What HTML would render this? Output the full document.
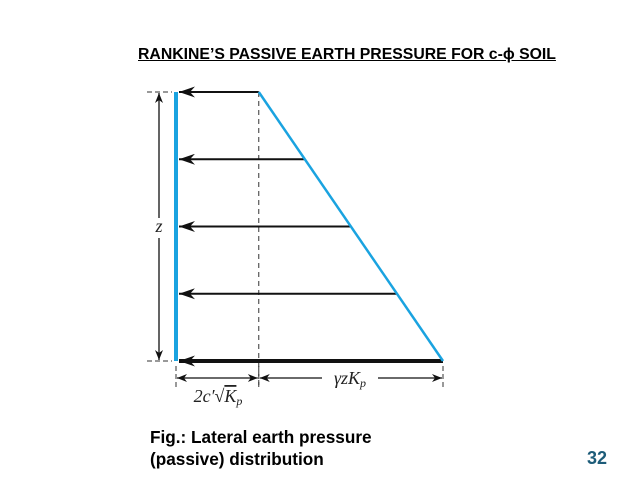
<!DOCTYPE html>
<html><head><meta charset="utf-8">
<style>
body{margin:0;width:638px;height:478px;background:#fff;overflow:hidden;font-family:"Liberation Sans",sans-serif;position:relative}
.t{position:absolute;font-weight:bold;color:#000;white-space:nowrap}
</style></head><body>
<div class="t" style="left:138px;top:46px;font-size:15.8px;text-decoration:underline;">RANKINE’S PASSIVE EARTH PRESSURE FOR c-ϕ SOIL</div>
<svg id="fig" width="638" height="478" style="position:absolute;left:0;top:0">
<defs><marker id="ah" markerWidth="16" markerHeight="11" refX="16" refY="5.5" orient="auto" markerUnits="userSpaceOnUse"><path d="M0,0 L16,5.5 L0,11 L5,5.5 z" fill="#111"/></marker>
<marker id="ah2" markerWidth="10" markerHeight="8" refX="10" refY="4" orient="auto-start-reverse" markerUnits="userSpaceOnUse"><path d="M0,0 L10,4 L0,8 L3,4 z" fill="#111"/></marker></defs>
</svg>
<div class="t" style="left:150px;top:426px;font-size:17.2px;line-height:22px">Fig.: Lateral earth pressure<br>(passive) distribution</div>
<div class="t" style="left:587px;top:448px;font-size:18px;color:#1d5c79">32</div>
<script>
const depths=[0,0.25,0.5,0.75,1.0];
const cohesionTerm=0.31;
const gammaTerm=0.69;
const svg=document.getElementById('fig');const NS='http://www.w3.org/2000/svg';
const x0=176,xFull=443,y0=92,y1=361;
const xs=v=>x0+v*(xFull-x0), ys=d=>y0+d*(y1-y0);
function el(t,a,name){const e=document.createElementNS(NS,t);for(const k in a)e.setAttribute(k,a[k]);


svg.appendChild(e);return e;}
const xc=xs(cohesionTerm);
el('line',{x1:xc,y1:y0,x2:xc,y2:388,stroke:'#333','stroke-width':1,'stroke-dasharray':'5,4'},'cohesion-dashed-line');
depths.forEach((d,i)=>{const p=cohesionTerm+gammaTerm*d;
el('line',{x1:xs(p),y1:ys(d),x2:x0+3,y2:ys(d),stroke:'#111','stroke-width':i==depths.length-1?4:2,'marker-end':'url(#ah)'},'pressure-arrow-'+i);});
el('line',{x1:xc,y1:ys(0),x2:xs(cohesionTerm+gammaTerm),y2:ys(1),stroke:'#1aa3e0','stroke-width':2.5},'pressure-envelope');
el('line',{x1:x0,y1:y0,x2:x0,y2:y1,stroke:'#1aa3e0','stroke-width':4},'wall');
el('line',{x1:147,y1:y0,x2:172,y2:y0,stroke:'#333','stroke-dasharray':'5,3'},'z-tick-top');
el('line',{x1:147,y1:y1,x2:172,y2:y1,stroke:'#333','stroke-dasharray':'5,3'},'z-tick-bottom');
el('line',{x1:159,y1:y0+1,x2:159,y2:218,stroke:'#111','stroke-width':1.3,'marker-start':'url(#ah2)'},'z-dim-upper');
el('line',{x1:159,y1:238,x2:159,y2:y1-1,stroke:'#111','stroke-width':1.3,'marker-end':'url(#ah2)'},'z-dim-lower');
const zt=el('text',{x:159,y:232,'font-family':'Liberation Serif','font-style':'italic','font-size':18,'text-anchor':'middle',fill:'#222'},'z-label');zt.textContent='z';
const xr=xs(cohesionTerm+gammaTerm);
[x0,xc,xr].forEach((x,i)=>el('line',{x1:x,y1:366,x2:x,y2:387,stroke:'#333','stroke-dasharray':'5,3'},'dim-tick-'+i));
el('line',{x1:x0+1,y1:378,x2:xc-1,y2:378,stroke:'#111','stroke-width':1.3,'marker-start':'url(#ah2)','marker-end':'url(#ah2)'},'cohesion-dim');
el('line',{x1:xc+1,y1:378,x2:322,y2:378,stroke:'#111','stroke-width':1.3,'marker-start':'url(#ah2)'},'gamma-dim-left');
el('line',{x1:378,y1:378,x2:xr-1,y2:378,stroke:'#111','stroke-width':1.3,'marker-end':'url(#ah2)'},'gamma-dim-right');
const g=el('text',{x:350,y:384,'font-family':'Liberation Serif','font-style':'italic','font-size':18,'text-anchor':'middle',fill:'#222'},'gamma-label');g.innerHTML='γzK<tspan font-size="12" dy="3">p</tspan>';
const c=el('text',{x:218,y:402,'font-family':'Liberation Serif','font-style':'italic','font-size':18,'text-anchor':'middle',fill:'#222'},'cohesion-label');c.innerHTML='2c′√<tspan text-decoration="overline">K</tspan><tspan font-size="12" dy="3">p</tspan>';
</script>
</body></html>
